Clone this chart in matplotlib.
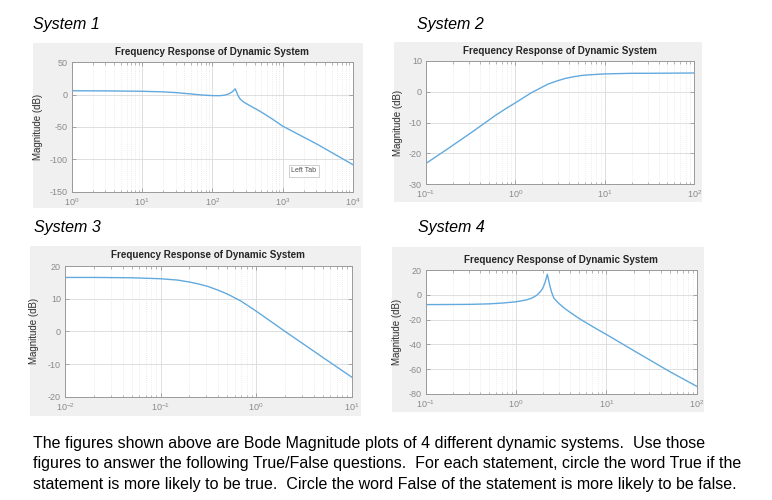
import matplotlib.pyplot as plt
from matplotlib.patches import Rectangle
from matplotlib.ticker import LogLocator, NullFormatter

plt.rcParams['font.family'] = ['Liberation Sans', 'DejaVu Sans']
plt.rcParams['mathtext.fontset'] = 'custom'
plt.rcParams['mathtext.rm'] = 'Liberation Sans'
plt.rcParams['axes.unicode_minus'] = False

W, H = 772, 500

# values
sys1Freq = [1, 3, 10, 20, 30, 45, 70, 100, 127, 150, 170, 188, 200, 211, 220, 232, 250, 280, 324, 400, 500, 700, 1000, 3162, 10000]
sys1Mag = [6.0, 5.8, 5.2, 4.3, 3.2, 1.5, -0.5, -1.5, -1.6, -0.8, 1.0, 3.6, 6.2, 9.0, 5.0, -1.5, -7.0, -11.5, -15.5, -21.0, -27.0, -37.0, -48.5, -77.0, -108.0]

sys2Freq = [0.1, 0.178, 0.324, 0.59, 0.8, 1.0, 1.25, 1.51, 1.9, 2.32, 2.9, 3.57, 4.5, 5.5, 7.5, 10, 20, 31, 100]
sys2Mag = [-23.3, -18.4, -13.2, -7.8, -5.3, -3.6, -1.8, -0.3, 1.2, 2.5, 3.5, 4.3, 4.9, 5.3, 5.6, 5.8, 6.0, 6.0, 6.1]

sys3Freq = [0.01, 0.02, 0.05, 0.1, 0.15, 0.2, 0.25, 0.316, 0.4, 0.51, 0.7, 1.0, 1.4, 2.0, 3.24, 5, 10]
sys3Mag = [16.5, 16.5, 16.4, 16.1, 15.7, 15.1, 14.5, 13.7, 12.6, 11.3, 9.2, 6.2, 3.2, 0.0, -4.2, -8.0, -14.0]

sys4Freq = [0.1, 0.2, 0.31, 0.5, 0.72, 1.0, 1.3, 1.5, 1.69, 1.85, 1.98, 2.09, 2.17, 2.22, 2.28, 2.36, 2.47, 2.62, 2.94, 3.4, 3.96, 5.1, 7, 10, 20, 30, 50, 100]
sys4Mag = [-7.8, -7.7, -7.6, -7.2, -6.5, -5.5, -4.0, -2.5, -0.3, 2.5, 5.5, 10.0, 14.0, 16.8, 13.0, 8.0, 2.5, -2.5, -6.5, -10.5, -14.0, -19.5, -25.5, -32.0, -45.0, -52.5, -62.0, -74.0]

systemNames = ["System 1", "System 2", "System 3", "System 4"]
yTicks = [[-150, -100, -50, 0, 50], [-30, -20, -10, 0, 10], [-20, -10, 0, 10, 20], [-80, -60, -40, -20, 0, 20]]
xLimits = [(1, 1e4), (0.1, 100), (0.01, 10), (0.1, 100)]

bodyLines = [
    "The figures shown above are Bode Magnitude plots of 4 different dynamic systems.  Use those",
    "figures to answer the following True/False questions.  For each statement, circle the word True if the",
    "statement is more likely to be true.  Circle the word False of the statement is more likely to be false.",
]

# pixel layout: axes box, grey panel, system label position, ylabel offset
axesBoxes = [(72, 62.3, 352.7, 191.7), (426, 61, 694.3, 184), (65, 266, 351.7, 396.7), (425.7, 270.3, 696.7, 393.7)]
panelBoxes = [(33, 43, 363, 208), (394, 42, 702, 202), (30, 246, 361, 416), (392, 247, 704, 412)]
labelPos = [(33, 29), (417, 29), (34, 232), (418, 232)]
ylabelOffset = [29, 23, 26, 24]

lineColor = '#62aade'
axisGrey = '#9a9a9a'


def figRect(left, top, right, bottom):
    return [left / W, 1 - bottom / H, (right - left) / W, (bottom - top) / H]


fig = plt.figure(figsize=(W / 100, H / 100), dpi=100)

series = [(sys1Freq, sys1Mag), (sys2Freq, sys2Mag), (sys3Freq, sys3Mag), (sys4Freq, sys4Mag)]

for i, (freq, mag) in enumerate(series):
    l, t, r, b = panelBoxes[i]
    fig.patches.append(Rectangle((l / W, 1 - b / H), (r - l) / W, (b - t) / H,
                                 transform=fig.transFigure, facecolor='#f0f0f0',
                                 edgecolor='none', zorder=-1))

    lx, ly = labelPos[i]
    fig.text(lx / W, 1 - ly / H, systemNames[i], fontsize=11.5, style='italic',
             va='baseline', ha='left', color='black')

    ax = fig.add_axes(figRect(*axesBoxes[i]))
    ax.semilogx(freq, mag, color=lineColor, lw=1.0)
    ax.set_xlim(*xLimits[i])
    ax.set_yticks(yTicks[i])
    ax.set_ylim(yTicks[i][0], yTicks[i][-1])

    ax.xaxis.set_major_locator(LogLocator(base=10, numticks=10))
    ax.xaxis.set_minor_locator(LogLocator(base=10, subs=range(2, 10), numticks=10))
    ax.xaxis.set_minor_formatter(NullFormatter())

    ax.grid(True, which='major', color='#dedede', lw=0.7, ls='-')
    ax.grid(True, which='minor', axis='x', color='#dadada', lw=0.5, ls=(0, (1, 2)))
    ax.set_axisbelow(True)

    ax.tick_params(which='both', direction='in', top=True, right=True,
                   colors=axisGrey, labelsize=6.5, labelcolor='#8a8a8a')
    ax.tick_params(which='major', length=3, width=0.6)
    ax.tick_params(which='minor', length=1.8, width=0.5)
    ax.tick_params(axis='x', pad=3.2)
    ax.tick_params(axis='y', pad=3)
    for s in ax.spines.values():
        s.set_color(axisGrey)
        s.set_linewidth(0.7)

    ax.set_title("Frequency Response of Dynamic System", fontsize=7.1,
                 fontweight='bold', color='#262626', pad=5.4)
    ax.set_ylabel("Magnitude (dB)", fontsize=7.0, color='#303030')
    width = axesBoxes[i][2] - axesBoxes[i][0]
    ax.yaxis.set_label_coords(-ylabelOffset[i] / width, 0.5)

    if i == 0:
        ax.text(0.826, 0.16, "Left Tab", transform=ax.transAxes, fontsize=5,
                color='#505050', ha='center', va='center',
                bbox=dict(boxstyle='square,pad=0.35', facecolor='white',
                          edgecolor='#c8c8c8', lw=0.6))

for k, line in enumerate(bodyLines):
    fig.text(33 / W, 1 - (447.7 + 20.4 * k) / H, line, fontsize=11.5,
             va='baseline', ha='left', color='black')

fig.savefig("out.png", dpi=100, facecolor='white')
